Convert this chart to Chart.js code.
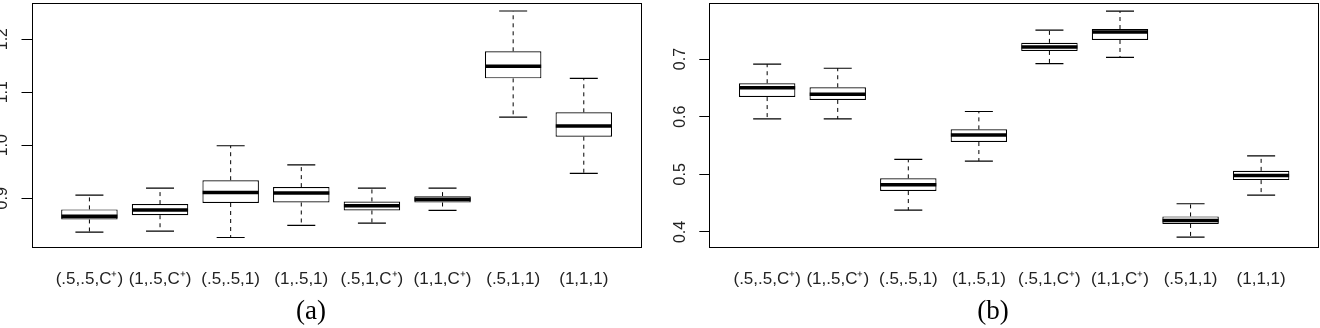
<!DOCTYPE html>
<html>
<head>
<meta charset="utf-8">
<script src="https://cdn.jsdelivr.net/npm/chart.js@4.4.1/dist/chart.umd.min.js"></script>
<style>
  body { margin: 0; background: #fff; width: 1320px; height: 328px; position: relative; overflow: hidden; }
  .panel { position: absolute; top: 0; width: 660px; height: 328px; }
  .caption { position: absolute; width: 100px; text-align: center; font-family: "Liberation Serif", "Times New Roman", serif; font-size: 27px; line-height: 27px; color: #000; }
</style>
</head>
<body>
<div class="panel" style="left:0"><canvas id="chartA"></canvas></div>
<div class="panel" style="left:660px"><canvas id="chartB"></canvas></div>
<div class="caption" style="left:261px; top:297px">(a)</div>
<div class="caption" style="left:943px; top:297px">(b)</div>
<script>
// category labels shared by both panels
const categories = ['(.5,.5,C⁺)', '(1,.5,C⁺)', '(.5,.5,1)', '(1,.5,1)', '(.5,1,C⁺)', '(1,1,C⁺)', '(.5,1,1)', '(1,1,1)'];

// panel (a) five-number summaries
const aMin    = [0.836, 0.838, 0.826, 0.849, 0.853, 0.877, 1.053, 0.947];
const aQ1     = [0.860, 0.868, 0.891, 0.892, 0.877, 0.892, 1.126, 1.016];
const aMedian = [0.866, 0.878, 0.911, 0.910, 0.886, 0.898, 1.149, 1.036];
const aQ3     = [0.879, 0.889, 0.934, 0.921, 0.894, 0.904, 1.177, 1.062];
const aMax    = [0.906, 0.919, 0.999, 0.963, 0.919, 0.919, 1.253, 1.126];
const aTicks  = [0.9, 1.0, 1.1, 1.2];

// panel (b) five-number summaries
const bMin    = [0.596, 0.596, 0.438, 0.523, 0.692, 0.703, 0.391, 0.464];
const bQ1     = [0.634, 0.629, 0.471, 0.556, 0.714, 0.733, 0.414, 0.490];
const bMedian = [0.650, 0.639, 0.482, 0.568, 0.721, 0.747, 0.420, 0.498];
const bQ3     = [0.658, 0.651, 0.493, 0.578, 0.728, 0.752, 0.427, 0.506];
const bMax    = [0.691, 0.684, 0.526, 0.609, 0.750, 0.783, 0.449, 0.532];
const bTicks  = [0.4, 0.5, 0.6, 0.7];

// draws the box frame around the plot region (R's box())
const framePlugin = {
    id: 'frame',
    afterDraw(chart) {
        const { ctx, chartArea: { left, top, right, bottom } } = chart;
        ctx.save();
        ctx.strokeStyle = '#000';
        ctx.lineWidth = 1;
        ctx.strokeRect(Math.round(left) + 0.5, Math.round(top) + 0.5, Math.round(right - left) - 1, Math.round(bottom - top));
        ctx.restore();
    }
};

function drawBoxplot(canvasId, mins, q1s, medians, q3s, maxs, yTicks, yMin, yMax, axisWidth, padRight) {
    const ctx = document.getElementById(canvasId).getContext('2d');

    // whisker segments: box edge to whisker end, broken by gaps
    const whiskers = [];
    categories.forEach((c, i) => {
        whiskers.push({ x: i + 1, y: q3s[i] }, { x: i + 1, y: maxs[i] }, { x: i + 1, y: null });
        whiskers.push({ x: i + 1, y: q1s[i] }, { x: i + 1, y: mins[i] }, { x: i + 1, y: null });
    });
    const caps = [];
    categories.forEach((c, i) => {
        caps.push({ x: i + 1, y: mins[i] }, { x: i + 1, y: maxs[i] });
    });

    return new Chart(ctx, {
        type: 'bar',
        data: {
            datasets: [
                {
                    type: 'bar',
                    data: categories.map((c, i) => ({ x: i + 1, y: [q1s[i], q3s[i]] })),
                    backgroundColor: '#ffffff',
                    borderColor: '#000000',
                    borderWidth: 1.2,
                    borderSkipped: false,
                    barPercentage: 0.8,
                    categoryPercentage: 1,
                    order: 3
                },
                {
                    type: 'line',
                    data: whiskers,
                    borderColor: '#000000',
                    borderWidth: 1,
                    borderDash: [4, 4],
                    pointRadius: 0,
                    spanGaps: false,
                    order: 4
                },
                {
                    type: 'line',
                    data: caps,
                    showLine: false,
                    pointStyle: 'line',
                    pointRadius: 14,
                    pointBorderWidth: 1.2,
                    pointBorderColor: '#000000',
                    order: 2
                },
                {
                    type: 'line',
                    data: categories.map((c, i) => ({ x: i + 1, y: medians[i] })),
                    showLine: false,
                    pointStyle: 'line',
                    pointRadius: 28,
                    pointBorderWidth: 3.5,
                    pointBorderColor: '#000000',
                    order: 1
                }
            ]
        },
        options: {
            responsive: true,
            maintainAspectRatio: false,
            animation: false,
            layout: { autoPadding: false, padding: { top: 2.5, right: padRight, bottom: 0, left: 0 } },
            scales: {
                x: {
                    type: 'linear',
                    min: 0.18,
                    max: 8.82,
                    offset: false,
                    afterBuildTicks: s => { s.ticks = categories.map((c, i) => ({ value: i + 1 })); },
                    afterFit: s => { s.height = 82; s.paddingLeft = 0; s.paddingRight = 0; },
                    ticks: {
                        autoSkip: false,
                        minRotation: 0,
                        maxRotation: 0,
                        padding: 23,
                        color: '#222',
                        font: { family: '"Liberation Sans", Arial, sans-serif', size: 17 },
                        callback: v => categories[v - 1]
                    },
                    grid: { display: false, drawTicks: false },
                    border: { display: false }
                },
                y: {
                    min: yMin,
                    max: yMax,
                    afterBuildTicks: s => { s.ticks = yTicks.map(v => ({ value: v })); },
                    afterFit: s => { s.width = axisWidth; s.paddingTop = 0; s.paddingBottom = 0; },
                    ticks: {
                        autoSkip: false,
                        minRotation: 90,
                        maxRotation: 90,
                        crossAlign: 'center',
                        padding: 8,
                        color: '#222',
                        font: { family: '"Liberation Sans", Arial, sans-serif', size: 16 },
                        callback: v => v.toFixed(1)
                    },
                    grid: { drawOnChartArea: false, drawTicks: true, tickLength: 10, tickColor: '#000', tickWidth: 1 },
                    border: { display: false }
                }
            },
            plugins: {
                legend: { display: false },
                tooltip: { enabled: false }
            }
        },
        plugins: [framePlugin]
    });
}

drawBoxplot('chartA', aMin, aQ1, aMedian, aQ3, aMax, aTicks, 0.81, 1.269, 31.5, 18.3);
drawBoxplot('chartB', bMin, bQ1, bMedian, bQ3, bMax, bTicks, 0.3757, 0.798, 49.3, 1);
</script>
</body>
</html>
